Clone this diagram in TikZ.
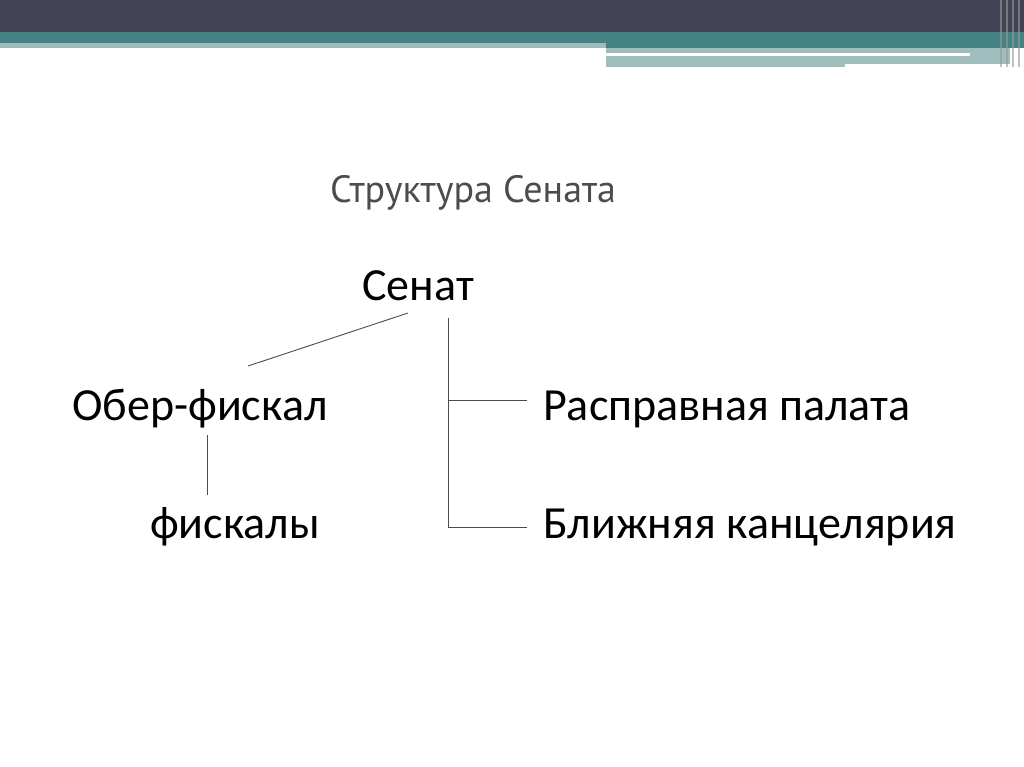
\documentclass[tikz,border=0pt]{standalone}
\usepackage{fontspec}
\setmainfont{Carlito}
\newfontfamily\titlefont{PT Sans}
\begin{document}
\begin{tikzpicture}[x=1pt,y=-1pt,
  lbl/.style={anchor=base west,inner sep=0pt,font=\fontsize{46}{50}\selectfont},
  conn/.style={draw=black!70,line width=0.9pt}]
\useasboundingbox (0,0) rectangle (1024,767);
\fill[white] (0,0) rectangle (1024,767);
\fill[black!15!white] (0,0) rectangle (1024,767);
\fill[white] (0,0) rectangle (1024,767);
\definecolor{dk}{HTML}{434356}
\definecolor{tl}{HTML}{468386}
\definecolor{lt}{HTML}{9EBDBC}
\fill[dk] (0,0) rectangle (1024,32);
\fill[tl] (0,32) rectangle (1024,48);
\fill[lt] (0,43) rectangle (606,48);
\fill[lt] (606,48) rectangle (1010,67);
\fill[white] (606,53) rectangle (970,56);
\fill[white] (845,64) rectangle (1010,67);
\foreach \x in {1000,1006,1012,1018} \fill[black!40,opacity=0.6] (\x,0) rectangle (\x+2,67);
\node[anchor=base west,inner sep=0pt,text=black!70,font=\titlefont\fontsize{38}{42}\selectfont] (title) at (330,203) {Структура Сената};
\node[lbl] (senat) at (362,300) {Сенат};
\node[lbl] (ober) at (72,420) {Обер-фискал};
\node[lbl] (rasp) at (543,420) {Расправная палата};
\node[lbl] (fisk) at (150,538) {фискалы};
\node[lbl] (blizh) at (543,538) {Ближняя канцелярия};
\coordinate (a1) at (408,313); \coordinate (a2) at (248,366);
\draw[conn] (a1) -- (a2);
\coordinate (v1) at (448,318); \coordinate (v2) at (448,527);
\coordinate (h1) at (448,400); \coordinate (h2) at (527,400); \coordinate (h3) at (527,527);
\draw[conn] (v1) -- (v2) -- (h3);
\draw[conn] (h1) -- (h2);
\coordinate (f1) at (207,435); \coordinate (f2) at (207,495);
\draw[conn] (f1) -- (f2);
\end{tikzpicture}
\end{document}
